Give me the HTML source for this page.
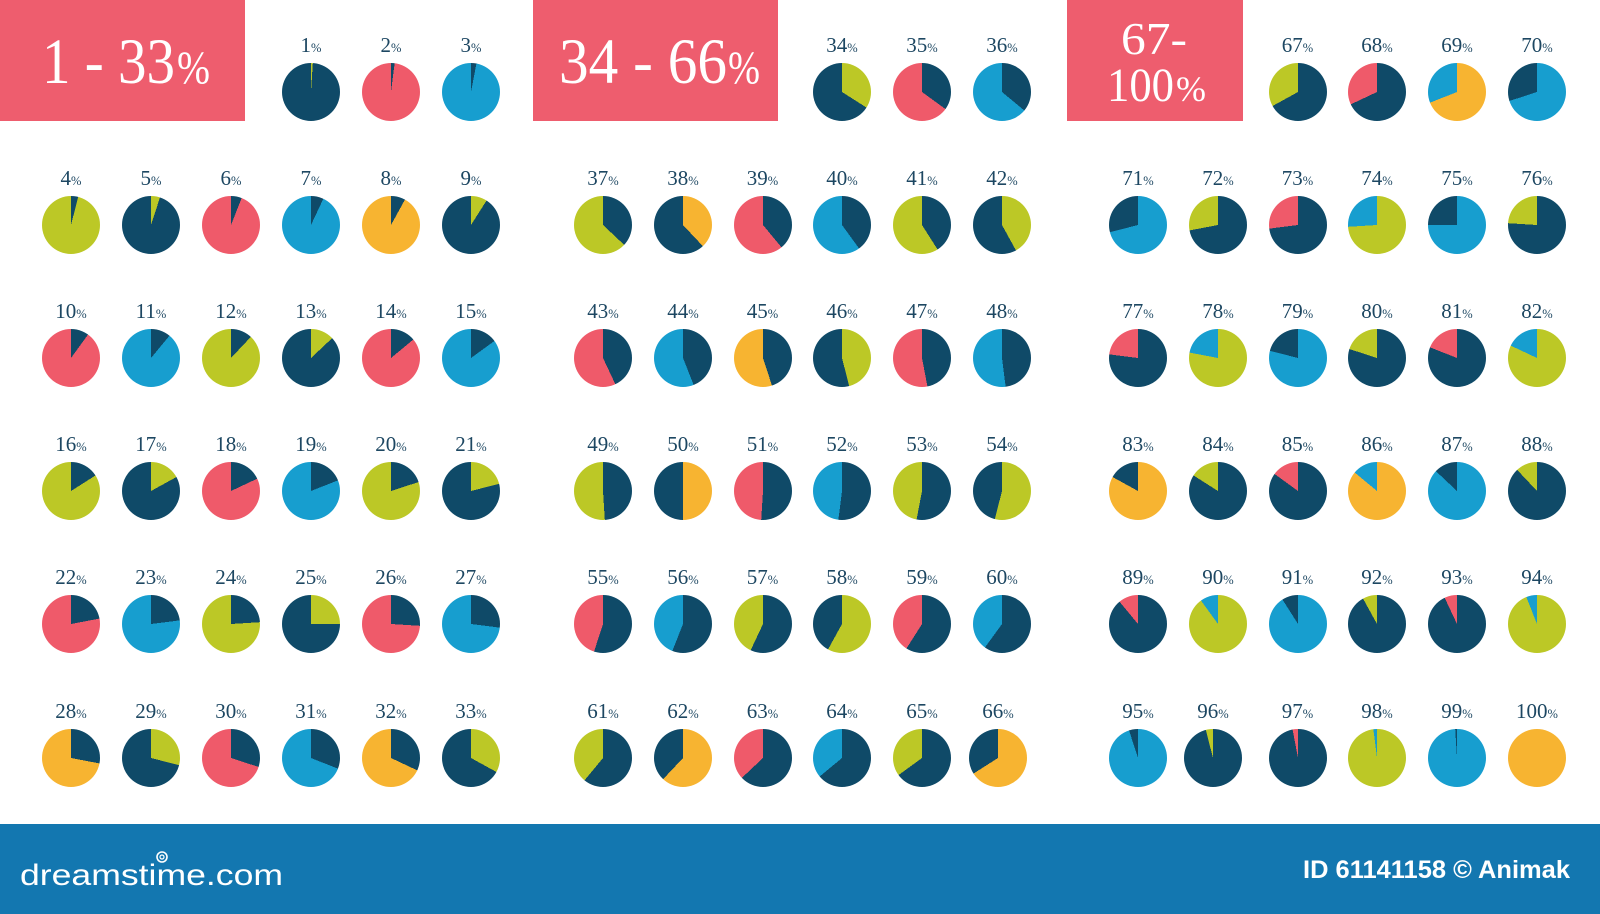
<!DOCTYPE html>
<html>
<head>
<meta charset="utf-8">
<style>
html,body{margin:0;padding:0;background:#fff;}
body{width:1600px;height:914px;position:relative;overflow:hidden;}
.hdr{position:absolute;top:0;height:121px;background:#ee5d6e;}
.k{position:absolute;width:80px;text-align:center;}
.k b{display:block;height:28px;font:400 21px/21px "Liberation Serif",serif;color:#1d4762;white-space:nowrap;}
.k b em{font-style:normal;font-size:12.5px;line-height:1;}
.k i{display:block;width:58px;height:58px;margin:0 auto;border-radius:50%;background:conic-gradient(var(--w) 0 var(--p),var(--b) 0);}
.r0{top:35px}.r1{top:168px}.r2{top:301px}.r3{top:434px}.r4{top:567px}.r5{top:700.5px}
.a0{left:31px}.a1{left:111px}.a2{left:191px}.a3{left:271px}.a4{left:351px}.a5{left:431px}
.b0{left:563px}.b1{left:643px}.b2{left:722.5px}.b3{left:802px}.b4{left:882px}.b5{left:962px}
.c0{left:1098px}.c1{left:1178px}.c2{left:1257.5px}.c3{left:1337px}.c4{left:1417px}.c5{left:1497px}
.LD{--w:#bcc826;--b:#0f4a68}
.DL{--w:#0f4a68;--b:#bcc826}
.DP{--w:#0f4a68;--b:#ef5a6a}
.DB{--w:#0f4a68;--b:#179ecf}
.DO{--w:#0f4a68;--b:#f7b431}
.OD{--w:#f7b431;--b:#0f4a68}
.OB{--w:#f7b431;--b:#179ecf}
.BD{--w:#179ecf;--b:#0f4a68}
.LB{--w:#bcc826;--b:#179ecf}
.OO{--w:#f7b431;--b:#f7b431}
svg{position:absolute;left:0;top:0;}
</style>
</head>
<body>
<div class="hdr" style="left:0;width:245px"></div>
<div class="hdr" style="left:533px;width:245px"></div>
<div class="hdr" style="left:1067px;width:176px"></div>

<!-- Group 1 -->
<div class="k r0 a3 LD" style="--p:1%"><b>1<em>%</em></b><i></i></div>
<div class="k r0 a4 DP" style="--p:2%"><b>2<em>%</em></b><i></i></div>
<div class="k r0 a5 DB" style="--p:3%"><b>3<em>%</em></b><i></i></div>

<div class="k r1 a0 DL" style="--p:4%"><b>4<em>%</em></b><i></i></div>
<div class="k r1 a1 LD" style="--p:5%"><b>5<em>%</em></b><i></i></div>
<div class="k r1 a2 DP" style="--p:6%"><b>6<em>%</em></b><i></i></div>
<div class="k r1 a3 DB" style="--p:7%"><b>7<em>%</em></b><i></i></div>
<div class="k r1 a4 DO" style="--p:8%"><b>8<em>%</em></b><i></i></div>
<div class="k r1 a5 LD" style="--p:9%"><b>9<em>%</em></b><i></i></div>

<div class="k r2 a0 DP" style="--p:10%"><b>10<em>%</em></b><i></i></div>
<div class="k r2 a1 DB" style="--p:11%"><b>11<em>%</em></b><i></i></div>
<div class="k r2 a2 DL" style="--p:12%"><b>12<em>%</em></b><i></i></div>
<div class="k r2 a3 LD" style="--p:13%"><b>13<em>%</em></b><i></i></div>
<div class="k r2 a4 DP" style="--p:14%"><b>14<em>%</em></b><i></i></div>
<div class="k r2 a5 DB" style="--p:15%"><b>15<em>%</em></b><i></i></div>

<div class="k r3 a0 DL" style="--p:16%"><b>16<em>%</em></b><i></i></div>
<div class="k r3 a1 LD" style="--p:17%"><b>17<em>%</em></b><i></i></div>
<div class="k r3 a2 DP" style="--p:18%"><b>18<em>%</em></b><i></i></div>
<div class="k r3 a3 DB" style="--p:19%"><b>19<em>%</em></b><i></i></div>
<div class="k r3 a4 DL" style="--p:20%"><b>20<em>%</em></b><i></i></div>
<div class="k r3 a5 LD" style="--p:21%"><b>21<em>%</em></b><i></i></div>

<div class="k r4 a0 DP" style="--p:22%"><b>22<em>%</em></b><i></i></div>
<div class="k r4 a1 DB" style="--p:23%"><b>23<em>%</em></b><i></i></div>
<div class="k r4 a2 DL" style="--p:24%"><b>24<em>%</em></b><i></i></div>
<div class="k r4 a3 LD" style="--p:25%"><b>25<em>%</em></b><i></i></div>
<div class="k r4 a4 DP" style="--p:26%"><b>26<em>%</em></b><i></i></div>
<div class="k r4 a5 DB" style="--p:27%"><b>27<em>%</em></b><i></i></div>

<div class="k r5 a0 DO" style="--p:28%"><b>28<em>%</em></b><i></i></div>
<div class="k r5 a1 LD" style="--p:29%"><b>29<em>%</em></b><i></i></div>
<div class="k r5 a2 DP" style="--p:30%"><b>30<em>%</em></b><i></i></div>
<div class="k r5 a3 DB" style="--p:31%"><b>31<em>%</em></b><i></i></div>
<div class="k r5 a4 DO" style="--p:32%"><b>32<em>%</em></b><i></i></div>
<div class="k r5 a5 LD" style="--p:33%"><b>33<em>%</em></b><i></i></div>

<!-- Group 2 -->
<div class="k r0 b3 LD" style="--p:34%"><b>34<em>%</em></b><i></i></div>
<div class="k r0 b4 DP" style="--p:35%"><b>35<em>%</em></b><i></i></div>
<div class="k r0 b5 DB" style="--p:36%"><b>36<em>%</em></b><i></i></div>

<div class="k r1 b0 DL" style="--p:37%"><b>37<em>%</em></b><i></i></div>
<div class="k r1 b1 OD" style="--p:38%"><b>38<em>%</em></b><i></i></div>
<div class="k r1 b2 DP" style="--p:39%"><b>39<em>%</em></b><i></i></div>
<div class="k r1 b3 DB" style="--p:40%"><b>40<em>%</em></b><i></i></div>
<div class="k r1 b4 DL" style="--p:41%"><b>41<em>%</em></b><i></i></div>
<div class="k r1 b5 LD" style="--p:42%"><b>42<em>%</em></b><i></i></div>

<div class="k r2 b0 DP" style="--p:43%"><b>43<em>%</em></b><i></i></div>
<div class="k r2 b1 DB" style="--p:44%"><b>44<em>%</em></b><i></i></div>
<div class="k r2 b2 DO" style="--p:45%"><b>45<em>%</em></b><i></i></div>
<div class="k r2 b3 LD" style="--p:46%"><b>46<em>%</em></b><i></i></div>
<div class="k r2 b4 DP" style="--p:47%"><b>47<em>%</em></b><i></i></div>
<div class="k r2 b5 DB" style="--p:48%"><b>48<em>%</em></b><i></i></div>

<div class="k r3 b0 DL" style="--p:49%"><b>49<em>%</em></b><i></i></div>
<div class="k r3 b1 OD" style="--p:50%"><b>50<em>%</em></b><i></i></div>
<div class="k r3 b2 DP" style="--p:51%"><b>51<em>%</em></b><i></i></div>
<div class="k r3 b3 DB" style="--p:52%"><b>52<em>%</em></b><i></i></div>
<div class="k r3 b4 DL" style="--p:53%"><b>53<em>%</em></b><i></i></div>
<div class="k r3 b5 LD" style="--p:54%"><b>54<em>%</em></b><i></i></div>

<div class="k r4 b0 DP" style="--p:55%"><b>55<em>%</em></b><i></i></div>
<div class="k r4 b1 DB" style="--p:56%"><b>56<em>%</em></b><i></i></div>
<div class="k r4 b2 DL" style="--p:57%"><b>57<em>%</em></b><i></i></div>
<div class="k r4 b3 LD" style="--p:58%"><b>58<em>%</em></b><i></i></div>
<div class="k r4 b4 DP" style="--p:59%"><b>59<em>%</em></b><i></i></div>
<div class="k r4 b5 DB" style="--p:60%"><b>60<em>%</em></b><i></i></div>

<div class="k r5 b0 DL" style="--p:61%"><b>61<em>%</em></b><i></i></div>
<div class="k r5 b1 OD" style="--p:62%"><b>62<em>%</em></b><i></i></div>
<div class="k r5 b2 DP" style="--p:63%"><b>63<em>%</em></b><i></i></div>
<div class="k r5 b3 DB" style="--p:64%"><b>64<em>%</em></b><i></i></div>
<div class="k r5 b4 DL" style="--p:65%"><b>65<em>%</em></b><i></i></div>
<div class="k r5 b5 OD" style="--p:66%;left:958px"><b>66<em>%</em></b><i></i></div>

<!-- Group 3 -->
<div class="k r0 c2 DL" style="--p:67%"><b>67<em>%</em></b><i></i></div>
<div class="k r0 c3 DP" style="--p:68%"><b>68<em>%</em></b><i></i></div>
<div class="k r0 c4 OB" style="--p:69%"><b>69<em>%</em></b><i></i></div>
<div class="k r0 c5 BD" style="--p:70%"><b>70<em>%</em></b><i></i></div>

<div class="k r1 c0 BD" style="--p:71%"><b>71<em>%</em></b><i></i></div>
<div class="k r1 c1 DL" style="--p:72%"><b>72<em>%</em></b><i></i></div>
<div class="k r1 c2 DP" style="--p:73%"><b>73<em>%</em></b><i></i></div>
<div class="k r1 c3 LB" style="--p:74%"><b>74<em>%</em></b><i></i></div>
<div class="k r1 c4 BD" style="--p:75%"><b>75<em>%</em></b><i></i></div>
<div class="k r1 c5 DL" style="--p:76%"><b>76<em>%</em></b><i></i></div>

<div class="k r2 c0 DP" style="--p:77%"><b>77<em>%</em></b><i></i></div>
<div class="k r2 c1 LB" style="--p:78%"><b>78<em>%</em></b><i></i></div>
<div class="k r2 c2 BD" style="--p:79%"><b>79<em>%</em></b><i></i></div>
<div class="k r2 c3 DL" style="--p:80%"><b>80<em>%</em></b><i></i></div>
<div class="k r2 c4 DP" style="--p:81%"><b>81<em>%</em></b><i></i></div>
<div class="k r2 c5 LB" style="--p:82%"><b>82<em>%</em></b><i></i></div>

<div class="k r3 c0 OD" style="--p:83%"><b>83<em>%</em></b><i></i></div>
<div class="k r3 c1 DL" style="--p:84%"><b>84<em>%</em></b><i></i></div>
<div class="k r3 c2 DP" style="--p:85%"><b>85<em>%</em></b><i></i></div>
<div class="k r3 c3 OB" style="--p:86%"><b>86<em>%</em></b><i></i></div>
<div class="k r3 c4 BD" style="--p:87%"><b>87<em>%</em></b><i></i></div>
<div class="k r3 c5 DL" style="--p:88%"><b>88<em>%</em></b><i></i></div>

<div class="k r4 c0 DP" style="--p:89%"><b>89<em>%</em></b><i></i></div>
<div class="k r4 c1 LB" style="--p:90%"><b>90<em>%</em></b><i></i></div>
<div class="k r4 c2 BD" style="--p:91%"><b>91<em>%</em></b><i></i></div>
<div class="k r4 c3 DL" style="--p:92%"><b>92<em>%</em></b><i></i></div>
<div class="k r4 c4 DP" style="--p:93%"><b>93<em>%</em></b><i></i></div>
<div class="k r4 c5 LB" style="--p:94%"><b>94<em>%</em></b><i></i></div>

<div class="k r5 c0 BD" style="--p:95%"><b>95<em>%</em></b><i></i></div>
<div class="k r5 c1 DL" style="--p:96%;left:1173px"><b>96<em>%</em></b><i></i></div>
<div class="k r5 c2 DP" style="--p:97%"><b>97<em>%</em></b><i></i></div>
<div class="k r5 c3 LB" style="--p:98%"><b>98<em>%</em></b><i></i></div>
<div class="k r5 c4 BD" style="--p:99%"><b>99<em>%</em></b><i></i></div>
<div class="k r5 c5 OO" style="--p:100%"><b>100<em>%</em></b><i></i></div>

<svg width="1600" height="914" viewBox="0 0 1600 914" xmlns="http://www.w3.org/2000/svg">
  <g fill="#ffffff" font-family="'Liberation Serif', serif">
    <text x="42" y="83" font-size="65" textLength="133" lengthAdjust="spacingAndGlyphs">1 - 33</text>
    <text x="177" y="83" font-size="47" textLength="33" lengthAdjust="spacingAndGlyphs">%</text>
    <text x="559" y="83" font-size="65" textLength="168" lengthAdjust="spacingAndGlyphs">34 - 66</text>
    <text x="728" y="83" font-size="47" textLength="32" lengthAdjust="spacingAndGlyphs">%</text>
    <text x="1121" y="54" font-size="46" textLength="66" lengthAdjust="spacingAndGlyphs">67-</text>
    <text x="1107" y="101" font-size="48" textLength="67" lengthAdjust="spacingAndGlyphs">100</text>
    <text x="1176" y="101" font-size="36" textLength="30" lengthAdjust="spacingAndGlyphs">%</text>
  </g>
  <rect x="0" y="824" width="1600" height="90" fill="#1377b0"/>
  <text x="20" y="885" font-family="'Liberation Sans', sans-serif" font-size="30" fill="#ffffff" textLength="263" lengthAdjust="spacingAndGlyphs">dreamstime.com</text>
  <circle cx="162" cy="857" r="5" fill="none" stroke="#ffffff" stroke-width="1.6"/>
  <circle cx="162" cy="857" r="2" fill="none" stroke="#ffffff" stroke-width="1.2"/>
  <text x="1303" y="878" font-family="'Liberation Sans', sans-serif" font-size="25" font-weight="bold" fill="#ffffff" textLength="267" lengthAdjust="spacingAndGlyphs">ID 61141158 © Animak</text>
</svg>
</body>
</html>
